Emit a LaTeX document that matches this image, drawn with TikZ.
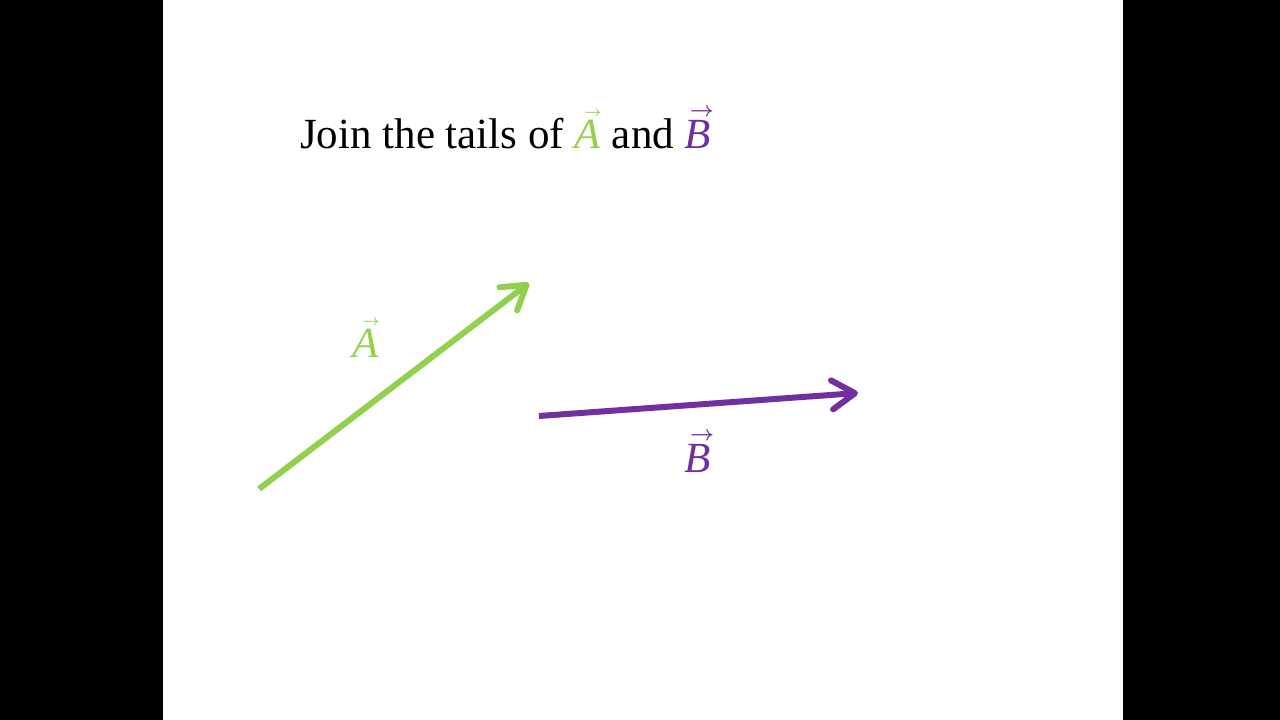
\documentclass[tikz,border=0pt]{standalone}
\usepackage{fontspec}
\setmainfont{Liberation Serif}
\usetikzlibrary{arrows.meta}
\definecolor{vgreen}{HTML}{92D050}
\definecolor{vpurple}{HTML}{7030A0}
% letter #1 with an arrow of width #2 above it, shifted right by #3
\newcommand\arrowon[3]{\leavevmode\setbox0\hbox{\itshape #1}%
  \hbox{\rlap{\kern\dimexpr0.5\wd0-0.5\dimexpr#2\relax+#3\relax
  \raisebox{0.74em}{\resizebox{#2}{!}{\mathversion{bold}$\rightarrow$}}}\box0}}
\tikzset{
  vecline/.style={line width=6pt, line join=round,
    -{Straight Barb[length=23pt,width=29pt,line cap=round,line join=round]}},
  biglabel/.style={inner sep=0pt, font=\fontsize{43}{52}\selectfont},
}
\begin{document}
\begin{tikzpicture}[x=1pt,y=-1pt]
  \fill[black] (0,0) rectangle (1280,720);
  \fill[white] (163,0) rectangle (1123,720);
  \useasboundingbox (0,0) rectangle (1280,720);
  % title
  \node[biglabel, anchor=base west] (title) at (300,148)
    {Join the tails of \textcolor{vgreen}{\arrowon{A}{17pt}{5pt}} and \textcolor{vpurple}{\arrowon{B}{24pt}{4pt}}};
  % vector A
  \coordinate (a0) at (259,489);
  \coordinate (a1) at (529,283);
  \draw[vecline, draw=vgreen] (a0) -- (a1);
  \node[biglabel, text=vgreen, anchor=base] (labA) at (366,357) {\arrowon{A}{17pt}{5pt}};
  % vector B
  \coordinate (b0) at (539,416);
  \coordinate (b1) at (858,393);
  \draw[vecline, draw=vpurple] (b0) -- (b1);
  \node[biglabel, text=vpurple, anchor=base] (labB) at (698,472) {\arrowon{B}{24pt}{4pt}};
\end{tikzpicture}
\end{document}
